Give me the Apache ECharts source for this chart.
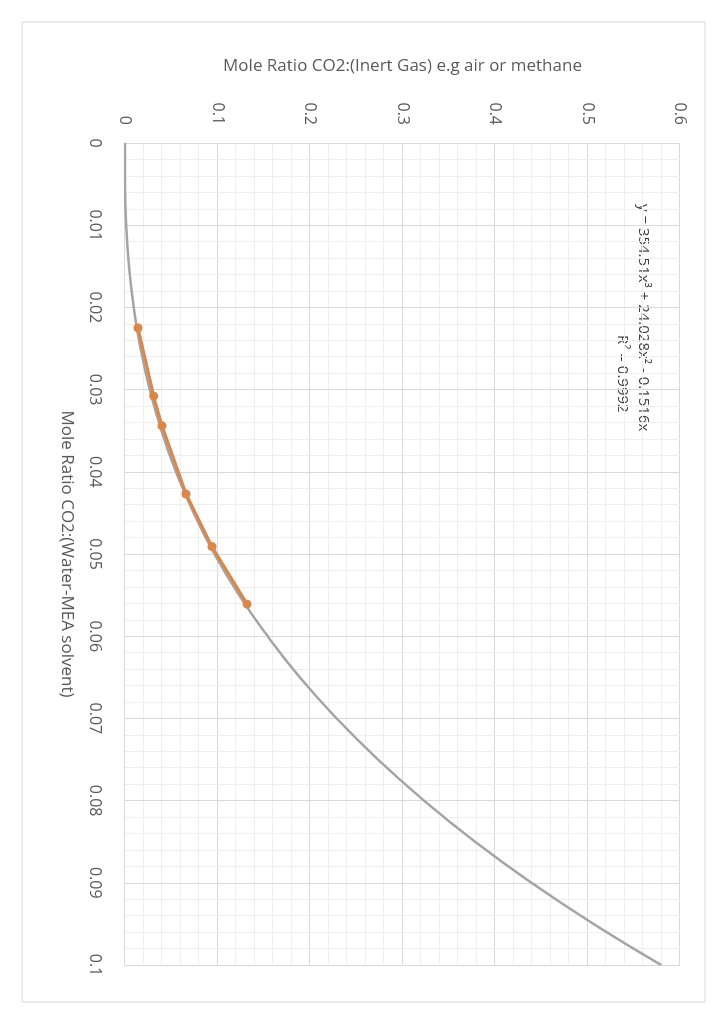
<!DOCTYPE html>
<html lang="en">
<head>
<meta charset="UTF-8">
<title>CO2 mole ratio</title>
<script src="https://cdn.jsdelivr.net/npm/echarts@6/dist/echarts.min.js"></script>
<style>
  html, body { margin: 0; padding: 0; background: #fff; overflow: hidden; }
  /* chart is drawn landscape, then turned 90deg like the reference */
  #chart {
    position: absolute; left: 0; top: 0;
    width: 1024px; height: 725px;
    transform-origin: 0 0;
    transform: translate(725px, 0) rotate(90deg);
  }
</style>
</head>
<body>
<div id="chart"></div>
<script>
  // trend line
  var trendX = [0, 0.005, 0.01, 0.015, 0.02, 0.025, 0.03, 0.035, 0.04, 0.045, 0.05,
                0.055, 0.06, 0.065, 0.07, 0.075, 0.08, 0.085, 0.09, 0.095, 0.1];
  var trendY = [0, 0, 0.0013, 0.0043, 0.0094, 0.0168, 0.0267, 0.0393, 0.0551, 0.0741, 0.0968,
                0.1233, 0.1542, 0.189, 0.2287, 0.2734, 0.3232, 0.3784, 0.4394, 0.5064, 0.5796];
  // measured points
  var pointX = [0.0225, 0.0308, 0.0344, 0.0427, 0.0491, 0.0561];
  var pointY = [0.014, 0.031, 0.040, 0.066, 0.094, 0.132];

  var txt = '#595959';
  var font = 'Open Sans, Liberation Sans, sans-serif';

  function pairs(xs, ys) {
    var out = [];
    for (var i = 0; i < xs.length; i++) out.push([xs[i], ys[i]]);
    return out;
  }

  var myChart = echarts.init(document.getElementById('chart'));
  var option = {
    animation: false,
    grid: { left: 143, right: 59, top: 45, bottom: 125 },
    xAxis: {
      type: 'value', min: 0, max: 0.1, interval: 0.01,
      name: 'Mole Ratio CO2:(Water-MEA solvent)',
      nameLocation: 'middle', nameGap: 50,
      nameTextStyle: { color: txt, fontSize: 17, fontFamily: font },
      axisLine: { show: true, lineStyle: { color: '#d9d9d9' } },
      axisTick: { show: false },
      axisLabel: { color: txt, fontSize: 16, fontFamily: font, margin: 22 },
      splitLine: { lineStyle: { color: '#d9d9d9' } },
      minorTick: { show: false, splitNumber: 5 },
      minorSplitLine: { show: true, lineStyle: { color: '#efefef' } }
    },
    yAxis: {
      type: 'value', min: 0, max: 0.6, interval: 0.1,
      name: 'Mole Ratio CO2:(Inert Gas) e.g air or methane',
      nameLocation: 'middle', nameGap: 68,
      nameTextStyle: { color: txt, fontSize: 17, fontFamily: font },
      axisLine: { show: false },
      axisTick: { show: false },
      axisLabel: { color: txt, fontSize: 16, fontFamily: font, margin: 18 },
      splitLine: { lineStyle: { color: '#d9d9d9' } },
      minorTick: { show: false, splitNumber: 5 },
      minorSplitLine: { show: true, lineStyle: { color: '#efefef' } }
    },
    graphic: [
      { type: 'rect', shape: { x: 22, y: 20, width: 980, height: 683 },
        style: { fill: 'none', stroke: '#d9d9d9', lineWidth: 1 }, silent: true, z: -1 },
      { type: 'text', left: 204, top: 74,
        style: { text: 'y = 354.51x³ + 24.028x² - 0.1516x', fill: '#404040', fontSize: 15, fontFamily: font } },
      { type: 'text', left: 335, top: 95,
        style: { text: 'R² = 0.9992', fill: '#404040', fontSize: 15, fontFamily: font } }
    ],
    series: [
      {
        type: 'line', data: pairs(trendX, trendY), smooth: true, showSymbol: false,
        lineStyle: { color: '#a5a5a5', width: 2.5 }, z: 2
      },
      {
        type: 'line', data: pairs(pointX, pointY), symbol: 'circle', symbolSize: 9,
        lineStyle: { color: '#d9874a', width: 3 },
        itemStyle: { color: '#d9874a' }, z: 3
      }
    ]
  };
  myChart.setOption(option);
</script>
</body>
</html>
